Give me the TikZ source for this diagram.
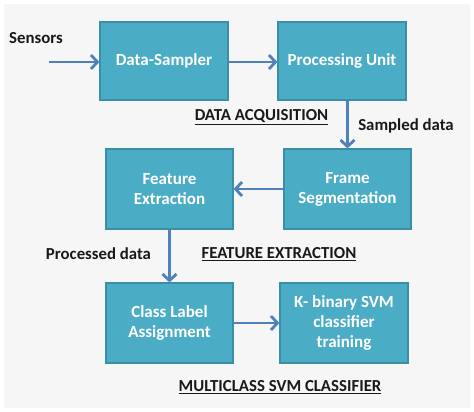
\documentclass[tikz,border=0pt]{standalone}
\usepackage{fontspec}
\setmainfont{Carlito}
\usetikzlibrary{arrows.meta}
\definecolor{boxfill}{HTML}{4BACC6}
\definecolor{boxline}{HTML}{3A8EA6}
\definecolor{arrowc}{HTML}{4F81BD}
\definecolor{bg}{HTML}{F6F6F6}
\tikzset{
  blk/.style={draw=boxline, line width=1.2pt, fill=boxfill, text=white, font=\fontsize{17}{20}\selectfont\bfseries, align=center, inner sep=0pt},
  conn/.style={draw=arrowc, line width=2.8pt, -{Straight Barb[length=6.5pt,width=14pt]}},
  lbl/.style={font=\fontsize{16.8}{20}\selectfont\bfseries, text=black!90, inner sep=0pt},
}
\begin{document}
\begin{tikzpicture}[x=1pt,y=-1pt]
\useasboundingbox (0,0) rectangle (474,412);
\fill[white] (0,0) rectangle (474,412);
\fill[bg] (4,4) rectangle (470,408);
\node[blk, minimum width=128pt, minimum height=78pt] (ds) at (164,61) {Data-Sampler};
\node[blk, minimum width=128pt, minimum height=78pt] (pu) at (342,61) {Processing Unit};
\node[blk, minimum width=127pt, minimum height=80pt] (fe) at (169.5,189) {Feature\\Extraction};
\node[blk, minimum width=127pt, minimum height=80pt] (fs) at (347.5,189) {Frame\\Segmentation};
\node[blk, minimum width=127pt, minimum height=80pt] (cl) at (169.5,323) {Class Label\\Assignment};
\node[blk, minimum width=128pt, minimum height=80pt] (kb) at (344,323) {K- binary SVM\\classifier\\training};
\node[lbl] (sen) at (36,38) {Sensors};
\node[lbl] (daq) at (261.5,117) {\underline{DATA ACQUISITION}};
\node[lbl] (sd) at (406,126) {Sampled data};
\node[lbl] (pd) at (98.5,254) {Processed data};
\node[lbl] (fex) at (279,254) {\underline{FEATURE EXTRACTION}};
\node[lbl] (msc) at (280,387) {\underline{MULTICLASS SVM CLASSIFIER}};
\coordinate (in) at (49,62);
\draw[conn] (in) -- (ds.west |- in);
\draw[conn] (ds.east |- in) -- (pu.west |- in);
\draw[conn] (pu.south -| fs.north) -- (fs.north);
\draw[conn] (fs.west) -- (fe.east);
\draw[conn] (fe.south) -- (cl.north);
\draw[conn] (cl.east) -- (kb.west);
\end{tikzpicture}
\end{document}
